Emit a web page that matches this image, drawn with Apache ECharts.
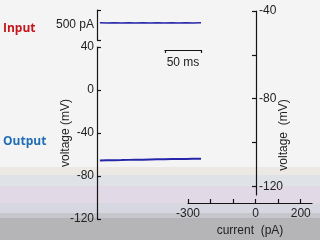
<!DOCTYPE html>
<html>
<head>
<meta charset="utf-8">
<script src="https://cdn.jsdelivr.net/npm/echarts@6/dist/echarts.min.js"></script>
<style>
  html, body { margin: 0; padding: 0; background: #f4f4f4; }
  #chart { width: 320px; height: 240px; }
</style>
</head>
<body>
<div id="chart"></div>
<script>
  // sample times (ms) for both traces
  const timeMs = [4, 14, 24, 34, 44, 54, 64, 74, 84, 94, 104, 114, 124, 134, 145]
  // injected current (pA), top trace
  const inputPa = [286, 284, 287, 285, 286, 284, 286, 285, 287, 285, 286, 284, 286, 285, 286]
  // membrane voltage (mV), bottom trace
  const outputMv = [-65.6, -65.4, -65.3, -65.2, -65.0, -64.9, -64.8, -64.6, -64.5, -64.5, -64.3, -64.2, -64.1, -64.0, -63.9]
  // I-V panel ticks
  const currentTicks = [-300, -200, -100, 0, 100, 200]
  const currentLabels = [-300, 0, 200]
  const ivVoltTicks = [-120, -100, -80, -60, -40]
  const ivVoltLabels = [-120, -80, -40]

  const ink = '#151515'
  const txt = { color: '#222', fontFamily: 'Liberation Sans', fontSize: 12 }

  const chart = echarts.init(document.getElementById('chart'))

  // 背景的渐变色带
  const bands = [
    [167, 8, '#ece9e5'],
    [175, 11, '#dfe3e8'],
    [186, 17, '#e1dae6'],
    [203, 10, '#d6d7e1'],
    [213, 5, '#c6c6cc'],
    [218, 22, '#b5b5b7']
  ]

  const grid = (left, top, width, height) => ({ left, top, width, height, outerBoundsMode: 'none', containLabel: false })

  chart.setOption({
    backgroundColor: '#f4f4f4',
    animation: false,
    graphic: bands.map(([y, h, c]) => ({
      type: 'rect',
      silent: true,
      z: -10,
      shape: { x: 0, y: y, width: 320, height: h },
      style: { fill: c }
    })),
    title: [
      {
        text: 'Input', left: 3, top: 23, padding: 0,
        textStyle: { color: '#c4161c', fontFamily: 'Open Sans', fontWeight: 'bold', fontSize: 12 }
      },
      {
        text: 'Output', left: 3, top: 136, padding: 0,
        textStyle: { color: '#1f6db5', fontFamily: 'Open Sans', fontWeight: 'bold', fontSize: 12 }
      }
    ],
    grid: [
      grid(97, 10, 104, 30),   // input trace
      grid(97, 47, 104, 172),  // output trace
      grid(165, 49, 36, 1),    // 50 ms scale bar
      grid(188, 11, 124, 184), // I-V current axis
      grid(200, 11, 56, 184)   // I-V voltage axis, right edge at 0 pA
    ],
    xAxis: [
      { gridIndex: 0, type: 'value', min: 0, max: 145, show: false },
      { gridIndex: 1, type: 'value', min: 0, max: 145, show: false },
      {
        gridIndex: 2, type: 'value', min: 0, max: 50, interval: 50,
        axisLine: { onZero: false, lineStyle: { color: ink, width: 1.2 } },
        axisTick: { show: true, length: 3, lineStyle: { color: ink, width: 1.2 } },
        axisLabel: { show: false },
        splitLine: { show: false },
        name: '50 ms', nameLocation: 'middle', nameGap: 7, nameTextStyle: txt
      },
      {
        gridIndex: 3, type: 'value', min: -300, max: 250, offset: 8,
        axisLine: { onZero: false, lineStyle: { color: ink, width: 1.2 } },
        axisTick: { show: true, inside: true, length: 4, customValues: currentTicks, lineStyle: { color: ink, width: 1.2 } },
        axisLabel: { ...txt, margin: 5, customValues: currentLabels },
        splitLine: { show: false },
        name: 'current  (pA)', nameLocation: 'middle', nameGap: 18, nameTextStyle: txt
      },
      { gridIndex: 4, type: 'value', min: -300, max: 0, show: false }
    ],
    yAxis: [
      {
        gridIndex: 0, type: 'value', min: 0, max: 500, interval: 500,
        axisLine: { show: true, lineStyle: { color: ink, width: 1.2 } },
        axisTick: { show: true, inside: true, length: 4, lineStyle: { color: ink, width: 1.2 } },
        axisLabel: { show: false },
        splitLine: { show: false },
        name: '500 pA', nameLocation: 'middle', nameRotate: 0, nameGap: 3, nameTextStyle: txt
      },
      {
        gridIndex: 1, type: 'value', min: -120, max: 40, interval: 40,
        axisLine: { show: true, lineStyle: { color: ink, width: 1.2 } },
        axisTick: { show: true, inside: true, length: 4, lineStyle: { color: ink, width: 1.2 } },
        axisLabel: { ...txt, margin: 3 },
        splitLine: { show: false },
        name: 'voltage (mV)', nameLocation: 'middle', nameGap: 25, nameMoveOverlap: false, nameTextStyle: txt
      },
      { gridIndex: 2, type: 'value', show: false },
      { gridIndex: 3, type: 'value', min: -124, max: -40, show: false },
      {
        gridIndex: 4, type: 'value', min: -124, max: -40, position: 'right',
        axisLine: { show: true, onZero: false, lineStyle: { color: ink, width: 1.2 } },
        axisTick: { show: true, inside: true, length: 4, customValues: ivVoltTicks, lineStyle: { color: ink, width: 1.2 } },
        axisLabel: { ...txt, margin: 3, customValues: ivVoltLabels },
        splitLine: { show: false },
        name: 'voltage  (mV)', nameLocation: 'middle', nameRotate: 90, nameGap: 22, nameMoveOverlap: false,
        nameTextStyle: { ...txt, padding: [0, 64, 0, 0] }
      }
    ],
    series: [
      {
        type: 'line', xAxisIndex: 0, yAxisIndex: 0, symbol: 'none', silent: true,
        data: timeMs.map((t, i) => [t, inputPa[i]]),
        lineStyle: { color: '#2626a8', width: 1.5 }
      },
      {
        type: 'line', xAxisIndex: 1, yAxisIndex: 1, symbol: 'none', silent: true,
        data: timeMs.map((t, i) => [t, outputMv[i]]),
        lineStyle: { color: '#2626a8', width: 2 }
      }
    ]
  })
</script>
</body>
</html>
